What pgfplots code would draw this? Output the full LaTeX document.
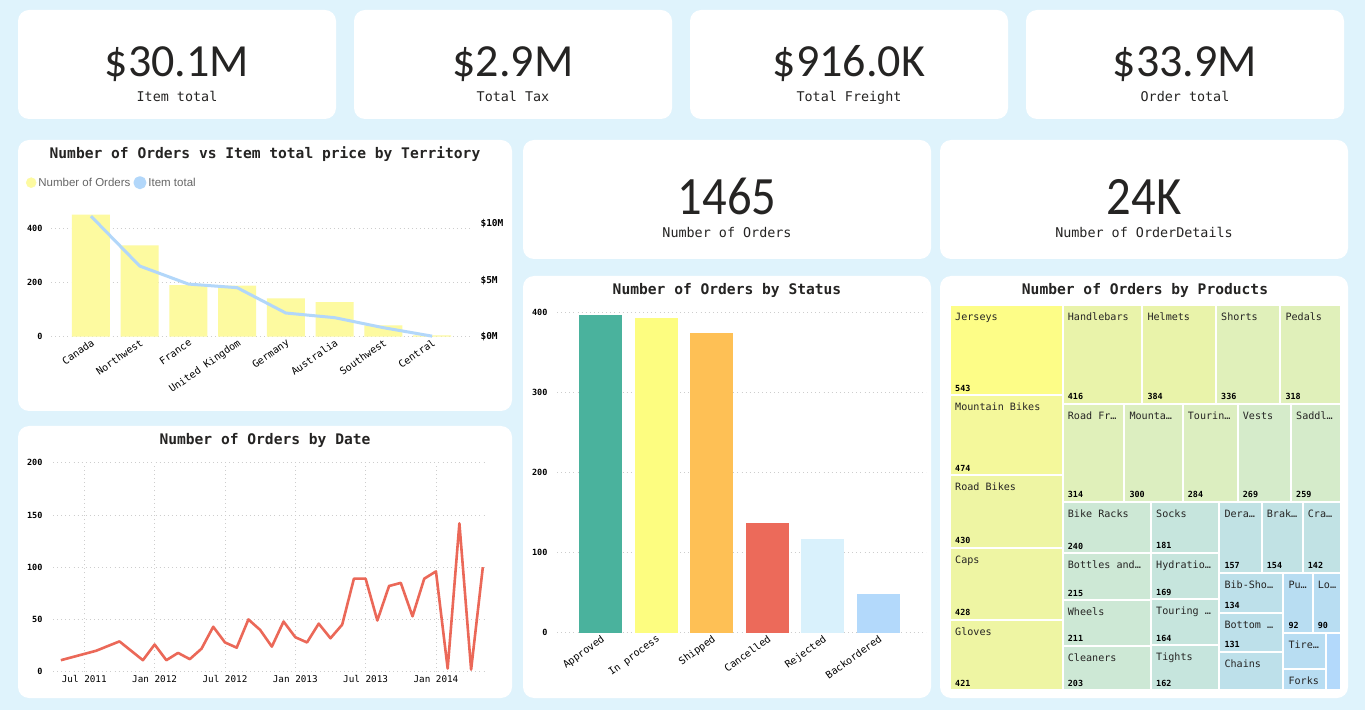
\documentclass[border=0pt]{standalone}
\usepackage{pgfplots}
\pgfplotsset{compat=1.18}
\usepackage{fontspec}
\usepackage{graphicx}
\setmainfont{DejaVu Sans Mono}
\newfontfamily\legfont{Liberation Sans}
\newfontfamily\kpifont{Carlito}

\definecolor{bg}{RGB}{223,243,252}
\definecolor{txt}{RGB}{37,36,35}
\definecolor{gridc}{RGB}{205,205,205}
\definecolor{barY}{RGB}{253,250,160}
\definecolor{lineB}{RGB}{178,215,250}
\definecolor{lineR}{RGB}{235,104,88}
\definecolor{stA}{RGB}{74,178,157}
\definecolor{stB}{RGB}{253,253,128}
\definecolor{stC}{RGB}{254,192,85}
\definecolor{stD}{RGB}{236,106,90}
\definecolor{stE}{RGB}{217,241,252}
\definecolor{stF}{RGB}{179,217,251}
% treemap shades, largest to smallest
\definecolor{tmA}{RGB}{253,253,135}
\definecolor{tmB}{RGB}{244,248,155}
\definecolor{tmC}{RGB}{238,245,163}
\definecolor{tmD}{RGB}{233,243,170}
\definecolor{tmE}{RGB}{224,240,186}
\definecolor{tmF}{RGB}{220,238,192}
\definecolor{tmG}{RGB}{213,235,202}
\definecolor{tmH}{RGB}{205,232,213}
\definecolor{tmI}{RGB}{198,229,221}
\definecolor{tmJ}{RGB}{193,226,228}
\definecolor{tmK}{RGB}{189,224,234}
\definecolor{tmL}{RGB}{184,221,242}
\definecolor{tmM}{RGB}{179,217,251}

\pgfplotsset{
  panel/.style={
    scale only axis, clip=false,
    axis line style={draw=none}, major tick length=0pt,
    grid style={gridc, line width=0.9pt, dash pattern=on 0.9pt off 3.2pt},
    /pgf/number format/assume math mode=true,
    yticklabel style={font=\bfseries\fontsize{8.5}{10}\selectfont, text=black},
    xticklabel style={text=black},
  },
}

% page is 1365 x 710 with 1px = 1pt, y counted from the bottom
\newcommand{\cardtitle}[3]{\node[anchor=base, text=txt, inner sep=0pt, font=\bfseries\fontsize{14.6}{16}\selectfont] at (#1,710-#2) {#3};}
\newcommand{\kpitop}[3]{%
  \node[anchor=base, text=txt, inner sep=0pt] at (#1,710-76.7) {\kpifont\fontsize{46}{50}\selectfont #2};
  \node[anchor=base, text=txt, inner sep=0pt] at (#1,710-101.7) {\fontsize{13.4}{15}\selectfont #3};}
\newcommand{\kpimid}[3]{%
  \node[anchor=base, text=txt, inner sep=0pt] at (#1,710-215) {\scalebox{0.9}[1]{\kpifont\fontsize{54}{58}\selectfont #2}};
  \node[anchor=base, text=txt, inner sep=0pt] at (#1,710-237.3) {\fontsize{13.4}{15}\selectfont #3};}
% treemap tile: x0 y0 x1 y1 colour name value (y grows downwards)
\newcommand{\tile}[7]{%
  \addplot[fill=#5, draw=white, line width=2pt, mark=none] coordinates {(#1,#2) (#3,#2) (#3,#4) (#1,#4)} -- cycle;
  \node[anchor=base west, inner sep=0pt, text=txt, font=\fontsize{10.1}{12}\selectfont, xshift=5pt, yshift=-15.5pt] at (axis cs:#1,#2) {#6};
  \node[anchor=base west, inner sep=0pt, text=black, font=\bfseries\fontsize{8.4}{10}\selectfont, xshift=5pt, yshift=4.3pt] at (axis cs:#1,#4) {#7};}

\begin{document}
\begin{tikzpicture}[x=1pt,y=1pt]
\useasboundingbox (0,0) rectangle (1365,710);
\fill[bg] (0,0) rectangle (1365,710);

% cards
\fill[white, rounded corners=11pt] (18,710-10) rectangle (336,710-119);
\fill[white, rounded corners=11pt] (354,710-10) rectangle (672,710-119);
\fill[white, rounded corners=11pt] (690,710-10) rectangle (1008,710-119);
\fill[white, rounded corners=11pt] (1026,710-10) rectangle (1344,710-119);
\fill[white, rounded corners=11pt] (18,710-140) rectangle (512,710-411);
\fill[white, rounded corners=11pt] (18,710-426) rectangle (512,710-698);
\fill[white, rounded corners=11pt] (523,710-140) rectangle (931,710-259);
\fill[white, rounded corners=11pt] (940,710-140) rectangle (1348,710-259);
\fill[white, rounded corners=11pt] (523,710-276) rectangle (931,710-698);
\fill[white, rounded corners=11pt] (940,710-276) rectangle (1348,710-698);

% KPI cards
\kpitop{177}{\$30.1M}{Item total}
\kpitop{513}{\$2.9M}{Total Tax}
\kpitop{849}{\$916.0K}{Total Freight}
\kpitop{1185}{\$33.9M}{Order total}
\kpimid{727}{1465}{Number of Orders}
\kpimid{1144}{24K}{Number of OrderDetails}

% titles
\cardtitle{265}{159}{Number of Orders vs Item total price by Territory}
\cardtitle{265}{445}{Number of Orders by Date}
\cardtitle{727}{295}{Number of Orders by Status}
\cardtitle{1145}{295}{Number of Orders by Products}

% --- territory: bars (left axis); at= needs explicit units inside pgfplots
\begin{axis}[panel, at={(51pt,373.3pt)}, anchor=south west, width=420pt, height=126.9pt,
  xmin=-0.82, xmax=7.8, ymin=0, ymax=470,
  ytick={0,200,400}, ymajorgrids,
  yticklabel style={xshift=-5pt},
  xtick={0,...,7},
  xticklabels={Canada,Northwest,France,United Kingdom,Germany,Australia,Southwest,Central},
  xticklabel style={rotate=35, anchor=north east, font=\fontsize{10}{12}\selectfont, inner sep=1pt},
]
\addplot[ybar, bar width=0.78, fill=barY, draw=none] coordinates {
  (0,452) (1,338) (2,191) (3,189) (4,142) (5,128) (6,42) (7,5)};
\end{axis}
% --- territory: item total in $M (right axis)
\begin{axis}[panel, at={(51pt,373.3pt)}, anchor=south west, width=420pt, height=126.9pt,
  xmin=-0.82, xmax=7.8, ymin=0, ymax=11.26,
  axis y line*=right, axis x line=none, xtick=\empty,
  ytick={0,5,10}, yticklabels={\$0M,\$5M,\$10M},
  yticklabel style={font=\bfseries\fontsize{9.5}{12}\selectfont, anchor=west, xshift=6pt},
  legend style={at={(axis description cs:-0.06,1.27)}, anchor=north west, draw=none, fill=none,
    inner sep=0pt, font=\legfont\fontsize{11.5}{13}\selectfont, text=black!60,
    /tikz/every even column/.append style={column sep=1pt}},
  legend columns=-1, legend cell align=left,
]
\addlegendimage{legend image code/.code={\fill[barY] (0pt,0pt) circle (5pt);}}
\addlegendentry{Number of Orders}
\addplot[lineB, line width=3pt, line join=round, mark=none,
  legend image code/.code={\fill[lineB] (0pt,0pt) circle (5pt);}] coordinates {
  (0,10.7) (1,6.27) (2,4.67) (3,4.35) (4,2.1) (5,1.69) (6,0.8) (7,0.05)};
\addlegendentry{Item total}
\end{axis}

% --- orders by date (x = months since Jan 2011)
\begin{axis}[panel, at={(53pt,38.3pt)}, anchor=south west, width=433pt, height=209pt,
  xmin=3.33, xmax=40.27, ymin=0, ymax=200,
  xtick={6,12,18,24,30,36},
  xticklabels={Jul 2011,Jan 2012,Jul 2012,Jan 2013,Jul 2013,Jan 2014},
  ytick={0,50,...,200}, xmajorgrids, ymajorgrids,
  yticklabel style={xshift=-7pt},
  xticklabel style={font=\fontsize{9.3}{11}\selectfont},
]
\addplot[lineR, line width=2.6pt, line join=round, mark=none] coordinates {
  (4,11) (6,17) (7,20) (9,29) (11,11) (12,26) (13,11) (14,18) (15,12) (16,22)
  (17,43) (18,28) (19,23) (20,50) (21,40) (22,24) (23,48) (24,33) (25,28) (26,46)
  (27,32) (28,45) (29,89) (30,89) (31,49) (32,82) (33,85) (34,53) (35,89) (36,96)
  (37,3) (38,142) (39,2) (40,100)};
\end{axis}

% --- orders by status
\begin{axis}[panel, at={(557pt,77.3pt)}, anchor=south west, width=369pt, height=320pt,
  xmin=-0.79, xmax=5.86, ymin=0, ymax=400,
  ytick={0,100,...,400}, ymajorgrids,
  yticklabel style={xshift=-6pt},
  xtick={0,...,5},
  xticklabels={Approved,In process,Shipped,Cancelled,Rejected,Backordered},
  xticklabel style={rotate=36, anchor=north east, font=\fontsize{10}{12}\selectfont, inner sep=1pt},
]
\addplot[ybar, bar width=0.775, bar shift=0pt, fill=stA, draw=none] coordinates {(0,397)};
\addplot[ybar, bar width=0.775, bar shift=0pt, fill=stB, draw=none] coordinates {(1,393)};
\addplot[ybar, bar width=0.775, bar shift=0pt, fill=stC, draw=none] coordinates {(2,375)};
\addplot[ybar, bar width=0.775, bar shift=0pt, fill=stD, draw=none] coordinates {(3,137)};
\addplot[ybar, bar width=0.775, bar shift=0pt, fill=stE, draw=none] coordinates {(4,117)};
\addplot[ybar, bar width=0.775, bar shift=0pt, fill=stF, draw=none] coordinates {(5,49)};
\end{axis}

% --- orders by products (treemap, pixel units)
\begin{axis}[scale only axis, hide axis, clip=false, y dir=reverse,
  at={(1145.5pt,212.35pt)}, anchor=center, width=391pt, height=385.3pt,
  xmin=950, xmax=1341, ymin=305, ymax=690.3]
\tile{950}{305}{1062.7}{395.3}{tmA}{Jerseys}{543}
\tile{950}{395.3}{1062.7}{475.3}{tmB}{Mountain Bikes}{474}
\tile{950}{475.3}{1062.7}{547.7}{tmC}{Road Bikes}{430}
\tile{950}{547.7}{1062.7}{619.7}{tmC}{Caps}{428}
\tile{950}{619.7}{1062.7}{690.3}{tmC}{Gloves}{421}
\tile{1062.7}{305}{1142.3}{403.7}{tmD}{Handlebars}{416}
\tile{1142.3}{305}{1216}{403.7}{tmD}{Helmets}{384}
\tile{1216}{305}{1280.3}{403.7}{tmE}{Shorts}{336}
\tile{1280.3}{305}{1341}{403.7}{tmE}{Pedals}{318}
\tile{1062.7}{403.7}{1124.3}{501.7}{tmE}{Road Fr…}{314}
\tile{1124.3}{403.7}{1182.7}{501.7}{tmF}{Mounta…}{300}
\tile{1182.7}{403.7}{1237.7}{501.7}{tmF}{Tourin…}{284}
\tile{1237.7}{403.7}{1291}{501.7}{tmG}{Vests}{269}
\tile{1291}{403.7}{1341}{501.7}{tmG}{Saddl…}{259}
\tile{1062.7}{501.7}{1151}{553.3}{tmH}{Bike Racks}{240}
\tile{1062.7}{553.3}{1151}{600.3}{tmH}{Bottles and…}{215}
\tile{1062.7}{600.3}{1151}{646}{tmH}{Wheels}{211}
\tile{1062.7}{646}{1151}{690.3}{tmH}{Cleaners}{203}
\tile{1151}{501.7}{1219.3}{552.7}{tmI}{Socks}{181}
\tile{1151}{552.7}{1219.3}{599.3}{tmI}{Hydratio…}{169}
\tile{1151}{599.3}{1219.3}{645.3}{tmI}{Touring …}{164}
\tile{1151}{645.3}{1219.3}{690.3}{tmI}{Tights}{162}
\tile{1219.3}{501.7}{1261.7}{572.7}{tmJ}{Dera…}{157}
\tile{1261.7}{501.7}{1302.7}{572.7}{tmJ}{Brak…}{154}
\tile{1302.7}{501.7}{1341}{572.7}{tmJ}{Cra…}{142}
\tile{1219.3}{572.7}{1283.3}{612.7}{tmK}{Bib-Sho…}{134}
\tile{1219.3}{612.7}{1283.3}{652}{tmK}{Bottom …}{131}
\tile{1219.3}{652}{1283.3}{690.3}{tmK}{Chains}{}
\tile{1283.3}{572.7}{1312.7}{632.7}{tmL}{Pu…}{92}
\tile{1312.7}{572.7}{1341}{632.7}{tmL}{Lo…}{90}
\tile{1283.3}{632.7}{1325.7}{669.3}{tmL}{Tire…}{}
\tile{1283.3}{669.3}{1325.7}{690.3}{tmL}{Forks}{}
\tile{1325.7}{632.7}{1341}{690.3}{tmM}{}{}
\end{axis}
\end{tikzpicture}
\end{document}
